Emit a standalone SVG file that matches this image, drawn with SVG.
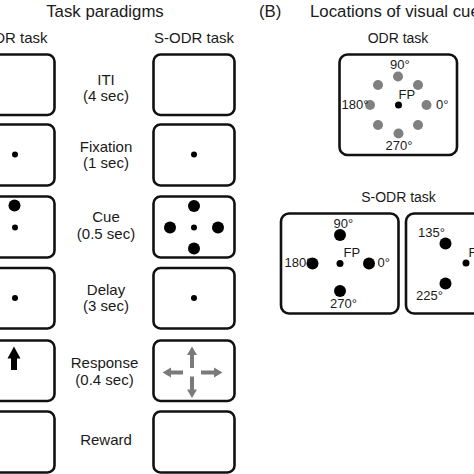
<svg xmlns="http://www.w3.org/2000/svg" width="474" height="474" viewBox="0 0 474 474">
<style>
text{font-family:"Liberation Sans",Arial,sans-serif;fill:#1a1a1a}
.h{font-size:16.8px}
.t{font-size:15px;text-anchor:middle}
.m{font-size:15px;text-anchor:middle}
.s{font-size:14px;text-anchor:middle}
.d{font-size:13px}
.box{fill:#fff;stroke:#111;stroke-width:2.6}
.dot{fill:#000}
.gd{fill:#808080}
.ga{fill:#7a7a7a}
</style>
<rect width="474" height="474" fill="#fff"/>
<g id="panelA-titles">
<text class="h" x="105" y="16.5" text-anchor="middle">Task paradigms</text>
<text class="t" x="15" y="43.3">ODR task</text>
<text class="t" x="194" y="43.3">S-ODR task</text>
</g>
<g id="iti">
<rect class="box" x="-26.5" y="54.5" width="81" height="60.5" rx="7"/>
<rect class="box" x="153.5" y="54.5" width="81" height="60.5" rx="7"/>
<text class="m" x="106" y="85">ITI</text>
<text class="m" x="106" y="101">(4 sec)</text>
</g>
<g id="fixation">
<rect class="box" x="-26.5" y="124.5" width="81" height="61" rx="7"/>
<rect class="box" x="153.5" y="124.5" width="81" height="61" rx="7"/>
<circle class="dot" cx="15" cy="154.5" r="3"/>
<circle class="dot" cx="194" cy="154.5" r="3"/>
<text class="m" x="106" y="151.5">Fixation</text>
<text class="m" x="106" y="168">(1 sec)</text>
</g>
<g id="cue">
<rect class="box" x="-26.5" y="196.5" width="81" height="61" rx="7"/>
<rect class="box" x="153.5" y="196.5" width="81" height="61" rx="7"/>
<circle class="dot" cx="14.5" cy="205.5" r="6"/>
<circle class="dot" cx="15" cy="227.5" r="3"/>
<circle class="dot" cx="194" cy="206" r="6"/>
<circle class="dot" cx="170" cy="227.5" r="6"/>
<circle class="dot" cx="218" cy="227.5" r="6"/>
<circle class="dot" cx="194" cy="248.5" r="6"/>
<circle class="dot" cx="194" cy="227.5" r="3"/>
<text class="m" x="106" y="222">Cue</text>
<text class="m" x="106" y="238.5">(0.5 sec)</text>
</g>
<g id="delay">
<rect class="box" x="-26.5" y="268" width="81" height="60.5" rx="7"/>
<rect class="box" x="153.5" y="268" width="81" height="60.5" rx="7"/>
<circle class="dot" cx="15" cy="298" r="3"/>
<circle class="dot" cx="194" cy="298" r="3"/>
<text class="m" x="106" y="295">Delay</text>
<text class="m" x="106" y="310.5">(3 sec)</text>
</g>
<g id="response">
<rect class="box" x="-26.5" y="340.5" width="81" height="60.5" rx="7"/>
<rect class="box" x="153.5" y="340.5" width="81" height="60.5" rx="7"/>
<polygon class="dot" points="14,346.5 20.5,358.5 17,358.5 17,370 11,370 11,358.5 7.5,358.5"/>
<polygon class="ga" points="192,346.5 197,355 194,355 194,368 190,368 190,355 187,355"/>
<polygon class="ga" points="192,398 197,389.5 194,389.5 194,376.5 190,376.5 190,389.5 187,389.5"/>
<polygon class="ga" points="162.5,372.5 171,367.5 171,370.5 183,370.5 183,374.5 171,374.5 171,377.5"/>
<polygon class="ga" points="222.5,372.5 214,367.5 214,370.5 201,370.5 201,374.5 214,374.5 214,377.5"/>
<text class="m" x="104.5" y="368">Response</text>
<text class="m" x="104.5" y="385">(0.4 sec)</text>
</g>
<g id="reward">
<rect class="box" x="-26.5" y="411.5" width="81" height="61" rx="7"/>
<rect class="box" x="153.5" y="411.5" width="81" height="61" rx="7"/>
<text class="m" x="106" y="445">Reward</text>
</g>
<g id="panelB-titles">
<text class="h" x="259" y="16.5">(B)</text>
<text class="h" x="310" y="16.5">Locations of visual cues</text>
<text class="s" x="398" y="42.7">ODR task</text>
<text class="s" x="398.5" y="202.3">S-ODR task</text>
</g>
<g id="odr-locations">
<rect class="box" x="339.5" y="54.5" width="117.5" height="100.5" rx="8"/>
<circle class="gd" cx="398" cy="76.5" r="5"/>
<circle class="gd" cx="426.5" cy="105" r="5"/>
<circle class="gd" cx="370" cy="105" r="5"/>
<circle class="gd" cx="398.5" cy="133.5" r="5"/>
<circle class="gd" cx="378" cy="85" r="5"/>
<circle class="gd" cx="418" cy="85" r="5"/>
<circle class="gd" cx="378" cy="125" r="5"/>
<circle class="gd" cx="418" cy="125" r="5"/>
<circle class="dot" cx="398.5" cy="105" r="3.5"/>
<text class="d" x="390" y="68.5">90°</text>
<text class="d" x="398.5" y="99">FP</text>
<text class="d" x="341.5" y="108.5">180°</text>
<text class="d" x="436" y="108.5">0°</text>
<text class="d" x="385.5" y="150">270°</text>
</g>
<g id="sodr-locations-cardinal">
<rect class="box" x="281" y="213.5" width="117.5" height="100" rx="8"/>
<circle class="dot" cx="340" cy="235" r="6"/>
<circle class="dot" cx="312.5" cy="263.5" r="6"/>
<circle class="dot" cx="369" cy="263.5" r="6"/>
<circle class="dot" cx="340" cy="291" r="6"/>
<circle class="dot" cx="340" cy="263.5" r="3.5"/>
<text class="d" x="333.5" y="227.7">90°</text>
<text class="d" x="343.5" y="257">FP</text>
<text class="d" x="284.5" y="266.5">180°</text>
<text class="d" x="377.5" y="266.5">0°</text>
<text class="d" x="330" y="307.5">270°</text>
</g>
<g id="sodr-locations-diagonal">
<rect class="box" x="406" y="213.5" width="117.5" height="100" rx="8"/>
<circle class="dot" cx="445.5" cy="243.5" r="6"/>
<circle class="dot" cx="445.5" cy="283.5" r="6"/>
<circle class="dot" cx="466" cy="263" r="3.5"/>
<text class="d" x="418" y="236.7">135°</text>
<text class="d" x="468.5" y="257">FP</text>
<text class="d" x="416" y="300">225°</text>
</g>
</svg>
